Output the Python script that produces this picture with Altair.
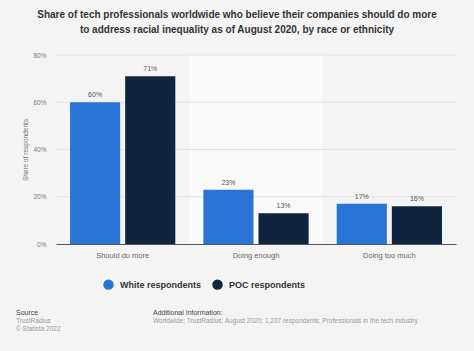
import altair as alt
import pandas as pd

categories = ["Should do more", "Doing enough", "Doing too much"]
white = [60, 23, 17]
poc = [71, 13, 16]
series = ["White respondents", "POC respondents"]
colors = ["#2a74d6", "#10243e"]
grid_values = [20, 40, 60, 80]

rows = []
for c, w, p in zip(categories, white, poc):
    rows.append({"cat": c, "series": series[0], "value": w, "label": f"{w}%"})
    rows.append({"cat": c, "series": series[1], "value": p, "label": f"{p}%"})
df = pd.DataFrame(rows)

FONT = "Liberation Sans"

xscale = alt.Scale(domain=categories, paddingInner=0, paddingOuter=0)
offscale = alt.Scale(domain=series, paddingInner=0.091, paddingOuter=0.2545)
yscale = alt.Scale(domain=[0, 80], nice=False)

xaxis = alt.Axis(title=None, labelAngle=0, labelFontSize=7.5, labelColor="#666666",
                 labelFont=FONT, domainColor="#555555", domainWidth=1, ticks=False,
                 labelPadding=7)
yaxis = alt.Axis(title="Share of respondents", values=[0, 20, 40, 60, 80],
                 labelExpr="datum.value + '%'", labelFontSize=6.5, labelColor="#777777",
                 labelFont=FONT, titleFont=FONT, titleFontSize=6.5, titleColor="#777777",
                 titleFontWeight="normal", titlePadding=4, labelPadding=10,
                 domain=False, ticks=False, grid=False)

band = alt.Chart(pd.DataFrame({"cat": ["Doing enough"]})).mark_rect(color="#f9f9f9").encode(
    x=alt.X("cat:N", scale=xscale, sort=categories, axis=xaxis),
    y=alt.value(0),
    y2=alt.value(189),
)

grid = alt.Chart(pd.DataFrame({"v": grid_values})).mark_rule(color="#e3e3e3", strokeWidth=1).encode(
    y=alt.Y("v:Q", scale=yscale, axis=yaxis),
)

base = alt.Chart(df)

bars = base.mark_bar().encode(
    x=alt.X("cat:N", scale=xscale, sort=categories, axis=xaxis),
    xOffset=alt.XOffset("series:N", scale=offscale, sort=series),
    y=alt.Y("value:Q", scale=yscale, axis=yaxis),
    color=alt.Color("series:N", scale=alt.Scale(domain=series, range=colors),
                    legend=alt.Legend(title=None, orient="none", direction="horizontal",
                                      legendX=47, legendY=224, symbolType="circle",
                                      symbolSize=110, symbolStrokeWidth=0,
                                      labelFont=FONT, labelFontSize=9, labelFontWeight="bold",
                                      labelColor="#333333", columnPadding=10, labelOffset=6)),
)

labels = base.mark_text(dy=-7, fontSize=7, color="#555555", font=FONT).encode(
    x=alt.X("cat:N", scale=xscale, sort=categories),
    xOffset=alt.XOffset("series:N", scale=offscale, sort=series),
    y=alt.Y("value:Q", scale=yscale),
    text="label:N",
)

def ftxt(text, x, y, bold=False, color="#999999", size=6.5):
    return alt.Chart(pd.DataFrame({"t": [text]})).mark_text(
        align="left", baseline="middle", fontSize=size, font=FONT,
        fontWeight="bold" if bold else "normal", color=color,
    ).encode(x=alt.value(x), y=alt.value(y), text="t:N")

footer = [
    ftxt("Source", 16 - 56, 313 - 55, color="#444444", size=7),
    ftxt("TrustRadius", 16 - 56, 321 - 55),
    ftxt("© Statista 2022", 16 - 56, 329 - 55),
    ftxt("Additional Information:", 153 - 56, 313 - 55, color="#444444", size=7),
    ftxt("Worldwide; TrustRadius; August 2020; 1,207 respondents; Professionals in the tech industry",
         153 - 56, 321 - 55),
]

chart = alt.layer(band, grid, bars, labels, *footer).properties(
    width=400, height=189,
    title=alt.TitleParams(
        ["Share of tech professionals worldwide who believe their companies should do more",
         "to address racial inequality as of August 2020, by race or ethnicity"],
        font=FONT, fontSize=10, fontWeight="bold", color="#333333", anchor="middle",
        dx=-19, offset=17, lineHeight=15,
    ),
    autosize=alt.AutoSizeParams(type="none"),
    padding={"left": 56, "top": 55, "right": 18, "bottom": 107},
).configure(background="#f4f4f4").configure_view(stroke=None)

chart.save("out.html", embed_options={"renderer": "svg", "actions": False})
